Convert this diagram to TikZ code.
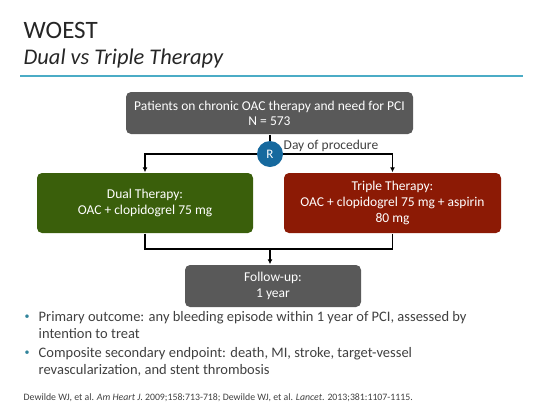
\documentclass[tikz,border=0pt]{standalone}
\usepackage{fontspec}
\setmainfont{Carlito}
\usetikzlibrary{arrows.meta,positioning}
\definecolor{boxgray}{HTML}{595959}
\definecolor{dualgreen}{HTML}{3A5F0B}
\definecolor{triplered}{HTML}{8C1A05}
\definecolor{randblue}{HTML}{16699E}
\definecolor{rule}{HTML}{4BACC6}
\definecolor{bulletteal}{HTML}{31849B}
\definecolor{bodytext}{HTML}{404040}
\tikzset{every picture/.style={line width=1.4pt}}
\tikzset{
  armbox/.style={rounded corners=5pt, draw=none, text=white, align=center,
    inner sep=0pt, font=\fontsize{13.5}{16}\selectfont},
  link/.style={draw=black, line width=1.4pt},
  arrowlink/.style={link, -{Latex[length=5pt,width=5pt]}},
}

\begin{document}
\begin{tikzpicture}[x=1pt,y=-1pt]
    \useasboundingbox (0,0) rectangle (540,405);
    % heading
    \node[anchor=base west, inner sep=0pt, text=black!85, font=\fontsize{25}{30}\selectfont] (title) at (23,38) {WOEST};
    \node[anchor=base west, inner sep=0pt, text=black!85, font=\fontsize{22.4}{28}\itshape] (subtitle) at (23,64) {Dual vs Triple Therapy};
    \draw[rule, line width=1.2pt] (20,76) -- (523,76);
    % flow boxes
    \node[armbox, fill=boxgray, minimum width=287pt, minimum height=42pt,
        font=\fontsize{13.5}{15}\selectfont] (patients) at (269.5,113)
        {Patients on chronic OAC therapy and need for PCI\\N = 573};
    \node[armbox, fill=dualgreen, minimum width=216pt, minimum height=60pt] (dual) at (145,203)
        {Dual Therapy:\\OAC + clopidogrel 75 mg};
    \node[armbox, fill=triplered, minimum width=217pt, minimum height=60pt] (triple) at (392.5,203)
        {Triple Therapy:\\OAC + clopidogrel 75 mg + aspirin\\80 mg};
    \node[armbox, fill=boxgray, minimum width=176pt, minimum height=42pt] (followup) at (273,286)
        {Follow-up:\\1 year};
    % randomisation
    \coordinate (split) at (270,154);
    \coordinate (merge) at (270,249);
    \draw[link] (patients.south -| split) -- (split);
    \draw[arrowlink] (split) -| (dual.north);
    \draw[arrowlink] (split) -| (triple.north);
    \node[circle, fill=randblue, text=white, minimum size=26pt, inner sep=0pt,
        font=\fontsize{13}{15}\selectfont] (rand) at (split) {R};
    \node[anchor=west, inner sep=0pt, text=bodytext, font=\fontsize{13.5}{15}\selectfont] (day) at (283,146) {Day of procedure};
    \draw[link] (dual.south) |- (merge);
    \draw[link] (triple.south) |- (merge);
    \draw[arrowlink] (merge) -- (merge |- followup.north);
    % outcomes
    \node[anchor=north west, inner sep=0pt, text=bodytext, align=left,
        font=\fontsize{14.5}{16.5}\selectfont] (primary) at (38,311)
        {Primary outcome: any bleeding episode within 1 year of PCI, assessed by\\intention to treat};
    \node[anchor=north west, inner sep=0pt, text=bodytext, align=left,
        font=\fontsize{14.5}{16.5}\selectfont] (secondary) at (38,347)
        {Composite secondary endpoint: death, MI, stroke, target-vessel\\revascularization, and stent thrombosis};
    \node[anchor=base, inner sep=0pt, text=bulletteal, font=\fontsize{10}{12}\selectfont] (dotone) at (27,319) {•};
    \node[anchor=base, inner sep=0pt, text=bulletteal, font=\fontsize{10}{12}\selectfont] (dottwo) at (27,355) {•};
    % reference
    \node[anchor=west, inner sep=0pt, text=bodytext, font=\fontsize{9.8}{11}\selectfont] (cite) at (23,398)
        {Dewilde WJ, et al. \textit{Am Heart J}. 2009;158:713-718; Dewilde WJ, et al. \textit{Lancet}. 2013;381:1107-1115.};
\end{tikzpicture}
\end{document}
